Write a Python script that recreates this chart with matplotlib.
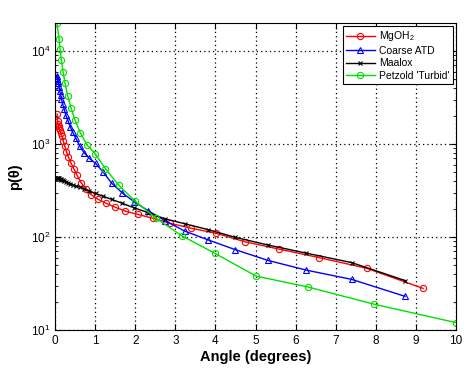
import matplotlib
matplotlib.use("Agg")
import matplotlib.pyplot as plt
from matplotlib.ticker import LogLocator, MultipleLocator, NullFormatter

plt.rcParams['font.family'] = ['Liberation Sans', 'DejaVu Sans']
plt.rcParams['mathtext.fontset'] = 'custom'
plt.rcParams['mathtext.rm'] = 'Liberation Sans'

# MgOH2
mg_angle = [0.054, 0.064, 0.076, 0.089, 0.105, 0.124, 0.146, 0.173, 0.204, 0.24,
            0.284, 0.335, 0.395, 0.466, 0.55, 0.649, 0.766, 0.904, 1.07, 1.26,
            1.49, 1.75, 2.07, 2.44, 2.88, 3.4, 4.01, 4.73, 5.59, 6.59, 7.78, 9.18]
mg_p = [2100, 1750, 1650, 1580, 1480, 1400, 1320, 1230, 1090, 960,
        830, 720, 630, 545, 460, 385, 330, 285, 255, 232,
        210, 190, 175, 159, 140, 124, 110, 89, 74, 60, 46, 28]

# Coarse ATD
atd_angle = [0.052, 0.061, 0.072, 0.085, 0.10, 0.12, 0.14, 0.16, 0.19, 0.23,
             0.27, 0.32, 0.38, 0.44, 0.52, 0.62, 0.73, 0.86, 1.01, 1.2,
             1.41, 1.67, 1.97, 2.32, 2.74, 3.23, 3.82, 4.5, 5.31, 6.27, 7.4, 8.73]
atd_p = [5400, 5100, 4800, 4500, 4100, 3700, 3350, 3050, 2700, 2350,
         2050, 1800, 1530, 1340, 1150, 950, 800, 700, 620, 500,
         380, 300, 240, 192, 150, 116, 93, 73, 56, 44, 35, 23]

# Maalox
maalox_angle = atd_angle
maalox_p = [436, 434, 432, 429, 427, 423, 418, 414, 408, 401,
            394, 385, 375, 366, 353, 345, 329, 312, 294, 274,
            254, 231, 206, 183, 157, 139, 120, 99, 82, 67, 53, 34]

# Petzold 'Turbid'
petz_angle = [0.05, 0.1, 0.126, 0.158, 0.2, 0.251, 0.316, 0.398, 0.501, 0.631,
              0.794, 1.0, 1.259, 1.585, 1.995, 2.512, 3.162, 3.981, 5.012,
              6.31, 7.943, 10.0]
petz_p = [20000, 13500, 10500, 8000, 6000, 4500, 3300, 2450, 1800, 1320,
          980, 790, 540, 362, 244, 160, 103, 67, 38, 29, 19, 12]

fig = plt.figure(figsize=(4.74, 3.71), dpi=100)
ax = fig.add_axes([55/474, 41/371, 401/474, 307/371])

ax.plot(mg_angle, mg_p, '-o', color='#ff0000', mfc='none', ms=4.5, lw=1.0,
        mew=0.8, label='MgOH$_2$')
ax.plot(atd_angle, atd_p, '-^', color='#0000ff', mfc='none', ms=4.5, lw=1.0,
        mew=0.8, label='Coarse ATD')
ax.plot(maalox_angle, maalox_p, '-x', color='black', ms=3, lw=1.0,
        mew=0.8, label='Maalox')
ax.plot(petz_angle, petz_p, '-o', color='#00e000', mfc='none', ms=4.5, lw=1.0,
        mew=0.8, label="Petzold 'Turbid'")

ax.set_yscale('log')
ax.set_xlim(0, 10)
ax.set_ylim(10, 2e4)
ax.xaxis.set_major_locator(MultipleLocator(1))
ax.yaxis.set_major_locator(LogLocator(base=10))
ax.yaxis.set_minor_locator(LogLocator(base=10, subs=range(2, 10)))
ax.yaxis.set_minor_formatter(NullFormatter())
ax.grid(True, which='major', linestyle=(0, (1, 2.5)), color='black',
        linewidth=0.9)
ax.tick_params(which='both', direction='in', top=True, right=True,
               labelsize=8.5)
ax.tick_params(which='major', length=4)
ax.tick_params(which='minor', length=2)
for s in ax.spines.values():
    s.set_linewidth(0.8)

ax.set_xlabel('Angle (degrees)', fontsize=10.5, fontweight='bold', labelpad=2)
ax.set_ylabel('p(θ)', fontsize=10.5, fontweight='bold', labelpad=6)

leg = ax.legend(loc='upper right', fontsize=7.5, frameon=True, fancybox=False,
                edgecolor='black', framealpha=1, borderpad=0.3,
                handlelength=2.8, labelspacing=0.25, handletextpad=0.4,
                borderaxespad=0.3)
leg.get_frame().set_linewidth(0.8)

fig.savefig('out.png', dpi=100)
